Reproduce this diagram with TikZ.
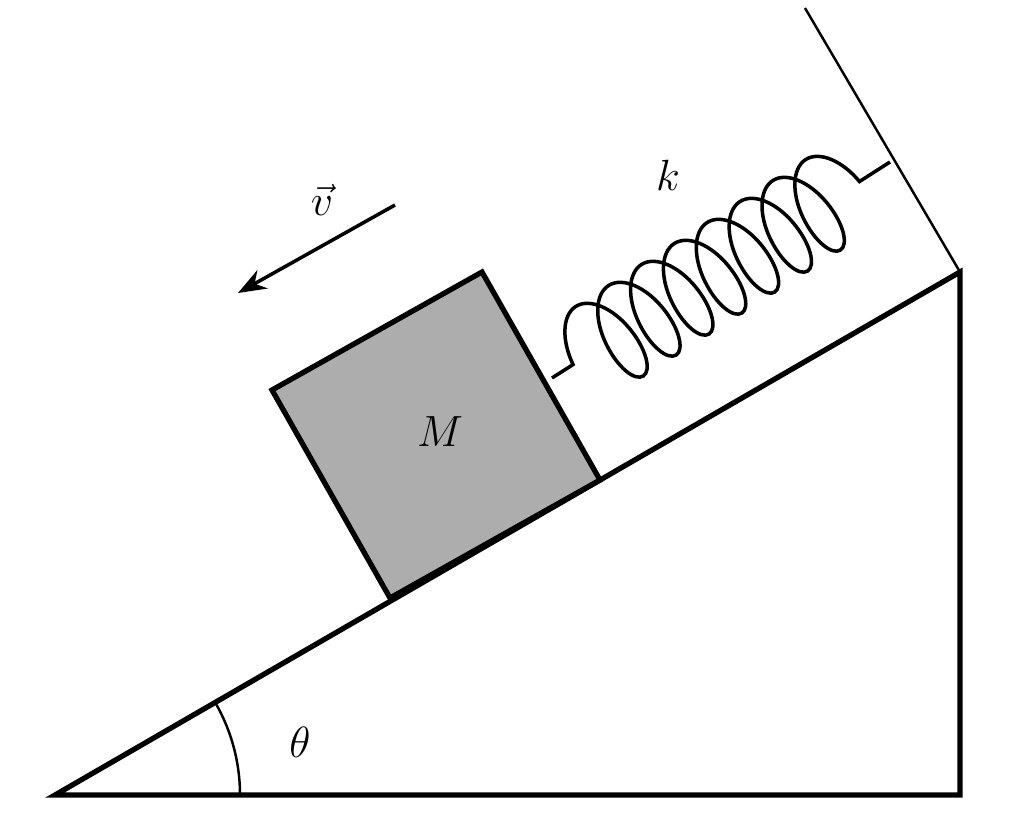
\documentclass[tikz,border=0pt]{standalone}
\usetikzlibrary{decorations.pathmorphing,arrows.meta}
\begin{document}
\begin{tikzpicture}[x=0.02cm,y=-0.02cm,
  thick line/.style={line width=3pt},
  lbl/.style={font=\fontsize{27}{32}\selectfont}]
\useasboundingbox (0,0) rectangle (1024,816);
\coordinate (A) at (55,795);
\coordinate (B) at (960,795);
\coordinate (C) at (960,272);
\draw[thick line,line join=miter] (A) -- (B) -- (C) -- cycle;
\draw[line width=1.4pt] (C) -- (805,8);
\draw[line width=1.4pt] (A) ++(185,0) arc[start angle=0,end angle=30,radius=3.7cm];
\node[lbl] (th) at (300,742) {$\theta$};
% block
\draw[thick line,fill=black!32] (390,598) -- (600,480) -- (482,272) -- (272,390) -- cycle;
\node[lbl] (M) at (440,432) {$M$};
% spring
\coordinate (s1) at (552,378);
\coordinate (s2) at (890,162);
\draw[line width=2pt,decorate,decoration={coil,amplitude=0.95cm,segment length=0.78cm,aspect=0.5,pre length=0.5cm,post length=0.45cm}] (s1) -- (s2);
\node[lbl] (k) at (668,175) {$k$};
% velocity
\coordinate (v1) at (395,205);
\coordinate (v2) at (238,293);
\draw[line width=2pt,-{Stealth[length=16pt,width=12pt]}] (v1) -- (v2);
\node[lbl] (v) at (322,200) {$\vec{v}$};
\end{tikzpicture}
\end{document}
